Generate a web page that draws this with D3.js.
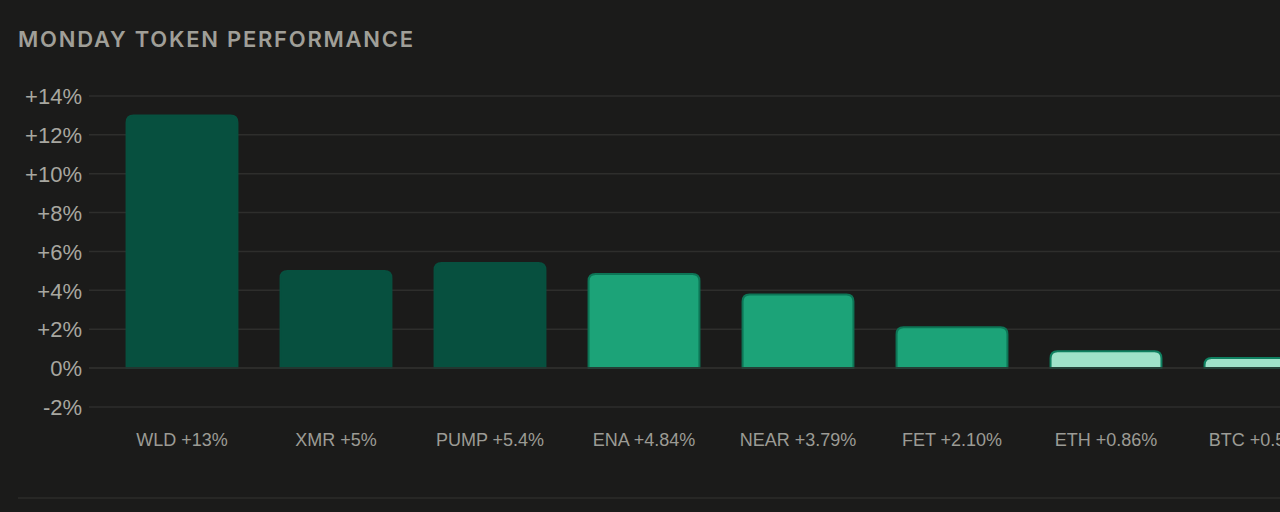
<!DOCTYPE html>
<html>
<head>
<meta charset="utf-8">
<script src="https://cdn.jsdelivr.net/npm/d3@7"></script>
<style>
html,body{margin:0;padding:0;background:#1b1b1a;overflow:hidden;}
svg{display:block;}
</style>
</head>
<body>
<svg id="chart" width="1280" height="512"></svg>
<script>
const tokens = ["WLD", "XMR", "PUMP", "ENA", "NEAR", "FET", "ETH", "BTC"];
const changes = [13, 5, 5.4, 4.84, 3.79, 2.10, 0.86, 0.52];
const changeLabels = ["+13%", "+5%", "+5.4%", "+4.84%", "+3.79%", "+2.10%", "+0.86%", "+0.52%"];
const tiers = [0, 0, 0, 1, 1, 1, 2, 2];
const yTicks = [-2, 0, 2, 4, 6, 8, 10, 12, 14];
const yTickLabels = ["-2%", "0%", "+2%", "+4%", "+6%", "+8%", "+10%", "+12%", "+14%"];
const tierFill = ["#07503f", "#1ca378", "#9fe2c9"];
const tierStroke = ["#07503f", "#0d7556", "#0f8060"];

const svg = d3.select("#chart");
const W = 1280, H = 512;
svg.append("rect").attr("width", W).attr("height", H).attr("fill", "#1b1b1a");

svg.append("text")
  .attr("x", 18).attr("y", 47)
  .attr("fill", "#a09f98")
  .attr("font-family", "Inter, 'Noto Sans', sans-serif")
  .attr("font-size", 22)
  .attr("font-weight", 600)
  .attr("letter-spacing", 1.75)
  .text("MONDAY TOKEN PERFORMANCE");

const y = d3.scaleLinear().domain([-2, 14]).range([406.9, 96]);
const x = d3.scaleBand().domain(tokens).range([105, 1337]).paddingInner(0.28).paddingOuter(0.14);

// grid
const g = svg.append("g");
g.selectAll("line.grid").data(yTicks).join("line")
  .attr("x1", 89).attr("x2", W)
  .attr("y1", d => y(d)).attr("y2", d => y(d))
  .attr("stroke", "#2e2e2c").attr("stroke-width", 1.5);

// y axis labels
const yAxis = d3.axisLeft(y).tickValues(yTicks).tickSize(0).tickPadding(0)
  .tickFormat((d, i) => yTickLabels[i]);
const ya = svg.append("g").attr("transform", "translate(82,0)").call(yAxis);
ya.select(".domain").remove();
ya.selectAll("text")
  .attr("fill", "#a8a7a0")
  .attr("font-family", "'Liberation Sans', Arial, sans-serif")
  .attr("font-size", 22)
  .attr("dy", "0.35em");

// bars: rounded top corners
const r = 7;
function barPath(i) {
  const x0 = x(tokens[i]), w = x.bandwidth();
  const top = y(changes[i]), base = y(0);
  const rr = Math.min(r, (base - top));
  return `M${x0},${base} L${x0},${top + rr} Q${x0},${top} ${x0 + rr},${top} L${x0 + w - rr},${top} Q${x0 + w},${top} ${x0 + w},${top + rr} L${x0 + w},${base} Z`;
}
svg.append("g").selectAll("path").data(tokens).join("path")
  .attr("d", (d, i) => barPath(i))
  .attr("fill", (d, i) => tierFill[tiers[i]])
  .attr("stroke", (d, i) => tierStroke[tiers[i]])
  .attr("stroke-width", 2);

// baseline
svg.append("line").attr("x1", 89).attr("x2", W).attr("y1", y(0)).attr("y2", y(0))
  .attr("stroke", "#2e2e2c").attr("stroke-width", 1.5);

// x labels
const xAxis = d3.axisBottom(x).tickSize(0).tickPadding(0)
  .tickFormat((d, i) => d + " " + changeLabels[i]);
const xa = svg.append("g").attr("transform", "translate(0,434)").call(xAxis);
xa.select(".domain").remove();
xa.selectAll("text")
  .attr("fill", "#9c9b95")
  .attr("font-family", "'Liberation Sans', Arial, sans-serif")
  .attr("font-size", 18)
  .attr("dy", "0.35em")
  .attr("y", 6);

// bottom separator
svg.append("line").attr("x1", 18).attr("x2", W).attr("y1", 498).attr("y2", 498)
  .attr("stroke", "#2c2c2a").attr("stroke-width", 1.5);
</script>
</body>
</html>
